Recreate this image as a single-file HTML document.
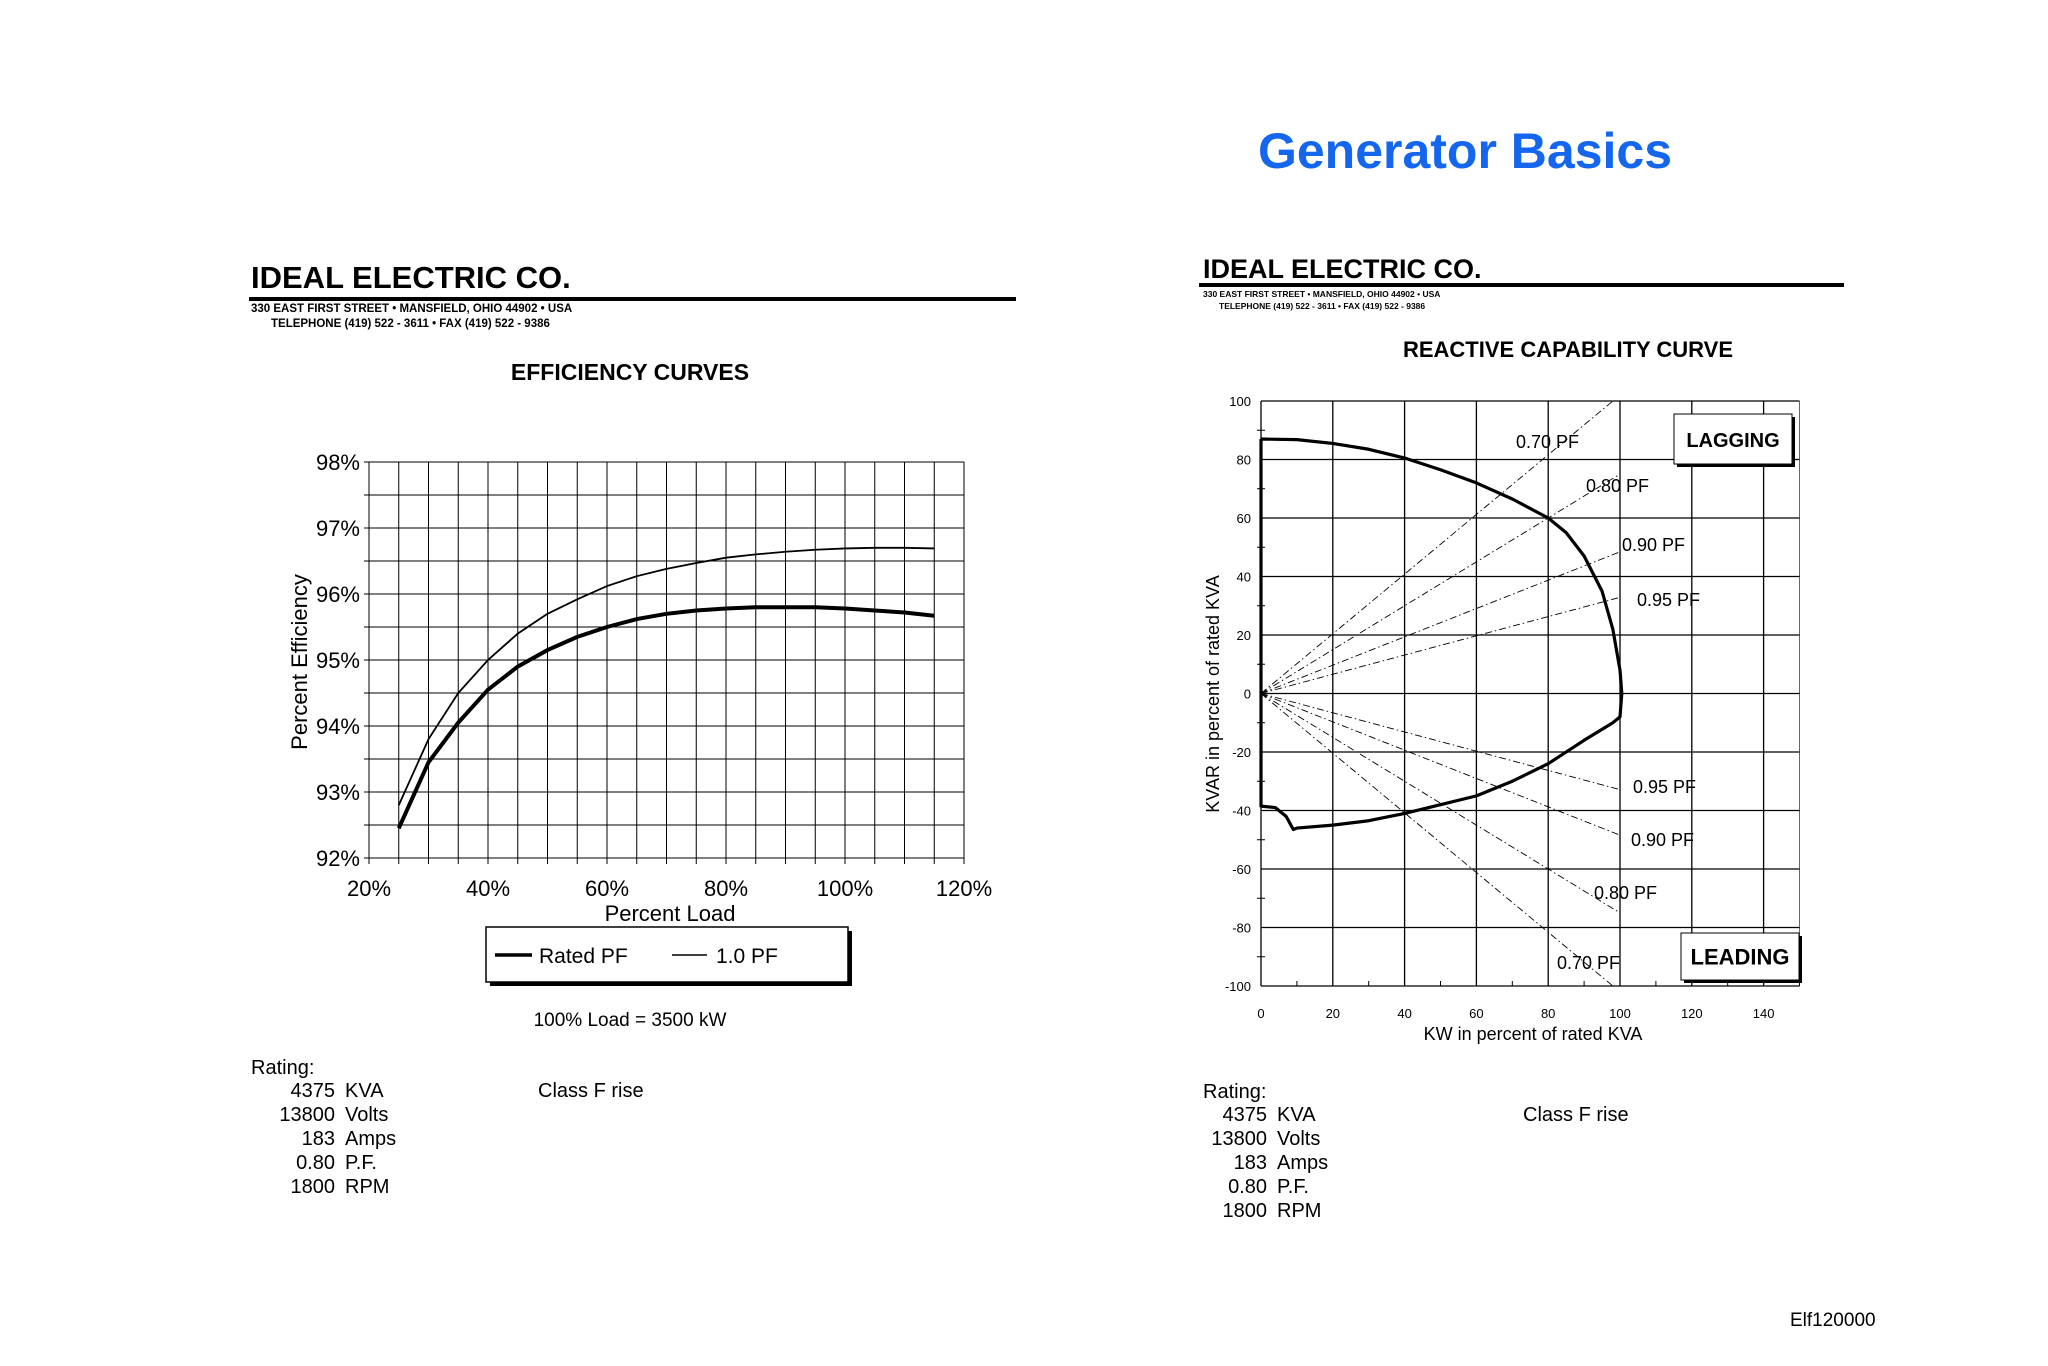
<!DOCTYPE html>
<html><head><meta charset="utf-8">
<style>
html,body{margin:0;padding:0;background:#fff;}
svg{display:block;font-family:"Liberation Sans",Arial,sans-serif;}
</style></head>
<body>
<svg id="page" width="2048" height="1366" viewBox="0 0 2048 1366" xmlns="http://www.w3.org/2000/svg">
<text x="1465" y="168" text-anchor="middle" font-size="50" font-weight="bold" fill="#1466ee">Generator Basics</text>

<g>
<text x="251" y="288" font-size="31" font-weight="bold">IDEAL ELECTRIC CO.</text>
<rect x="249" y="297" width="767" height="4" fill="#000"/>
<text x="251" y="312" font-size="11.5" font-weight="bold">330 EAST FIRST STREET  •  MANSFIELD,  OHIO  44902  •  USA</text>
<text x="271" y="327" font-size="11.5" font-weight="bold">TELEPHONE (419)  522 - 3611   •   FAX  (419)  522 - 9386</text>
<text x="630" y="380" text-anchor="middle" font-size="23" font-weight="bold">EFFICIENCY CURVES</text>
</g>
<g id="eff"></g>
<g>
<rect x="490" y="931" width="362" height="55" fill="#000"/>
<rect x="486" y="927" width="362" height="55" fill="#fff" stroke="#000" stroke-width="1.5"/>
<line x1="495" y1="955" x2="532" y2="955" stroke="#000" stroke-width="3.5"/>
<text x="539" y="963" font-size="21">Rated PF</text>
<line x1="672" y1="955" x2="707" y2="955" stroke="#000" stroke-width="1.5"/>
<text x="716" y="963" font-size="21">1.0 PF</text>
</g>
<text x="630" y="1026" text-anchor="middle" font-size="19">100% Load = 3500 kW</text>
<g font-size="20">
<text x="251" y="1074">Rating:</text>
<text x="335" y="1097" text-anchor="end">4375</text><text x="345" y="1097">KVA</text>
<text x="335" y="1121" text-anchor="end">13800</text><text x="345" y="1121">Volts</text>
<text x="335" y="1145" text-anchor="end">183</text><text x="345" y="1145">Amps</text>
<text x="335" y="1169" text-anchor="end">0.80</text><text x="345" y="1169">P.F.</text>
<text x="335" y="1193" text-anchor="end">1800</text><text x="345" y="1193">RPM</text>
<text x="538" y="1097">Class F rise</text>
</g>

<g>
<text x="1203" y="278" font-size="27" font-weight="bold">IDEAL  ELECTRIC  CO.</text>
<rect x="1199" y="283" width="645" height="4" fill="#000"/>
<text x="1203" y="297" font-size="8.5" font-weight="bold">330 EAST FIRST STREET  •  MANSFIELD,  OHIO  44902  •  USA</text>
<text x="1219" y="309" font-size="8.5" font-weight="bold">TELEPHONE (419)  522 - 3611   •   FAX  (419)  522 - 9386</text>
<text x="1568" y="357" text-anchor="middle" font-size="22" font-weight="bold">REACTIVE  CAPABILITY  CURVE</text>
</g>
<g id="rc"></g>
<g font-size="20">
<text x="1203" y="1098">Rating:</text>
<text x="1267" y="1121" text-anchor="end">4375</text><text x="1277" y="1121">KVA</text>
<text x="1267" y="1145" text-anchor="end">13800</text><text x="1277" y="1145">Volts</text>
<text x="1267" y="1169" text-anchor="end">183</text><text x="1277" y="1169">Amps</text>
<text x="1267" y="1193" text-anchor="end">0.80</text><text x="1277" y="1193">P.F.</text>
<text x="1267" y="1217" text-anchor="end">1800</text><text x="1277" y="1217">RPM</text>
<text x="1523" y="1121">Class F rise</text>
</g>
<text x="1790" y="1326" font-size="19">Elf120000</text>
</svg>
<script>
// Efficiency chart data
const loadPct = [25,30,35,40,45,50,55,60,65,70,75,80,85,90,95,100,105,110,115];
const effRatedPF = [92.45,93.45,94.05,94.55,94.9,95.15,95.35,95.5,95.62,95.7,95.75,95.78,95.8,95.8,95.8,95.78,95.75,95.72,95.67];
const effUnityPF = [92.8,93.8,94.5,95.0,95.4,95.7,95.92,96.12,96.27,96.38,96.47,96.55,96.6,96.64,96.67,96.69,96.7,96.7,96.69];
const effXTicks = [20,40,60,80,100,120];
const effYTicks = [92,93,94,95,96,97,98];

// Reactive capability data
const capKW = [0,10,20,30,40,50,60,70,80,85,90,95,98,100,100.5,100,98,90,80,70,60,50,40,30,20,10,9,7,4,0,0];
const capKVAR = [87,86.8,85.5,83.5,80.5,76.5,72,66.5,60,55,47,35,22,8,0,-8,-10,-16,-24,-30,-35,-38,-41,-43.5,-45,-46,-46.5,-42,-39,-38.5,87];
const pfValues = [0.70,0.80,0.90,0.95];
const pfLagEndKW = [98,100,100,100];
const pfLeadEndKW = [98,100,100,100];
const rcXTicks = [0,20,40,60,80,100,120,140];
const rcYTicks = [100,80,60,40,20,0,-20,-40,-60,-80,-100];

const NS='http://www.w3.org/2000/svg';
function mk(parent,tag,attrs,txt){const e=document.createElementNS(NS,tag);for(const k in attrs)e.setAttribute(k,attrs[k]);if(txt!==undefined)e.textContent=txt;parent.appendChild(e);return e;}

(function(){
const g=document.getElementById('eff');
const X0=369,X1=964,Y0=858,Y1=462;
const sx=v=>X0+(v-20)/(100)*(X1-X0);
const sy=v=>Y0-(v-92)/6*(Y0-Y1);
for(let v=20;v<=120;v+=5){const l=mk(g,'line',{x1:sx(v),y1:Y1,x2:sx(v),y2:Y0+6,stroke:'#000','stroke-width':1});

}
for(let v=92;v<=98.001;v+=0.5){const l=mk(g,'line',{x1:X0-5,y1:sy(v),x2:X1,y2:sy(v),stroke:'#000','stroke-width':1});

}
effYTicks.forEach(v=>{const t=mk(g,'text',{x:360,y:sy(v)+8,'text-anchor':'end','font-size':22},v+'%');

});
effXTicks.forEach(v=>{const t=mk(g,'text',{x:sx(v),y:896,'text-anchor':'middle','font-size':22},v+'%');

});
const xt=mk(g,'text',{x:670,y:921,'text-anchor':'middle','font-size':22},'Percent Load');


const yt=mk(g,'text',{x:0,y:0,'text-anchor':'middle','font-size':22,transform:'translate(307,662) rotate(-90)'},'Percent Efficiency');


const p1=mk(g,'polyline',{points:loadPct.map((x,i)=>sx(x)+','+sy(effUnityPF[i])).join(' '),fill:'none',stroke:'#000','stroke-width':1.8});


const p2=mk(g,'polyline',{points:loadPct.map((x,i)=>sx(x)+','+sy(effRatedPF[i])).join(' '),fill:'none',stroke:'#000','stroke-width':4});


})();

(function(){
const g=document.getElementById('rc');
const X0=1261,Y0=401,Y1=986;
const ux=(1620-1261)/100, uy=(Y1-Y0)/200;
const sx=v=>X0+v*ux, sy=v=>Y0+(100-v)*uy;
for(let v=0;v<=140;v+=20){const l=mk(g,'line',{x1:sx(v),y1:Y0,x2:sx(v),y2:Y1,stroke:'#000','stroke-width':1.3});

}
mk(g,'line',{x1:sx(150),y1:Y0,x2:sx(150),y2:Y1,stroke:'#666','stroke-width':1});
for(let v=-100;v<=100;v+=20){const l=mk(g,'line',{x1:X0,y1:sy(v),x2:sx(150),y2:sy(v),stroke:'#000','stroke-width':1.3});

}
for(let v=10;v<=150;v+=20){mk(g,'line',{x1:sx(v),y1:Y1-5,x2:sx(v),y2:Y1,stroke:'#000','stroke-width':1});}
for(let v=-90;v<=90;v+=20){mk(g,'line',{x1:X0-4,y1:sy(v),x2:X0+4,y2:sy(v),stroke:'#000','stroke-width':1});}
rcYTicks.forEach(v=>{const t=mk(g,'text',{x:1251,y:sy(v)+5,'text-anchor':'end','font-size':13},v);

});
rcXTicks.forEach(v=>{const t=mk(g,'text',{x:sx(v),y:1018,'text-anchor':'middle','font-size':13},v);

});
const xt=mk(g,'text',{x:1533,y:1040,'text-anchor':'middle','font-size':18},'KW in percent of rated KVA');


const yt=mk(g,'text',{x:0,y:0,'text-anchor':'middle','font-size':18,transform:'translate(1219,694) rotate(-90)'},'KVAR in percent of rated KVA');


const lagPos=[[1516,448],[1586,492],[1622,551],[1637,606]];
const leadPos=[[1557,969],[1594,899],[1631,846],[1633,793]];
pfValues.forEach((pf,i)=>{
 const r=Math.tan(Math.acos(pf));
 let kx=pfLagEndKW[i], ky=Math.min(100,kx*r); kx=ky/r;
 const l=mk(g,'line',{x1:sx(0),y1:sy(0),x2:sx(kx),y2:sy(ky),stroke:'#000','stroke-width':0.9,'stroke-dasharray':'7 3 1.5 3'});
 
 
 let lx=pfLeadEndKW[i], ly=Math.min(100,lx*r); lx=ly/r;
 const l2=mk(g,'line',{x1:sx(0),y1:sy(0),x2:sx(lx),y2:sy(-ly),stroke:'#000','stroke-width':0.9,'stroke-dasharray':'7 3 1.5 3'});
 
 
 const t=mk(g,'text',{x:lagPos[i][0],y:lagPos[i][1],'font-size':18},pf.toFixed(2)+'  PF');
 
 
});
[0.70,0.80,0.90,0.95].forEach((pf,i)=>{const p=leadPos[i];
 const t=mk(g,'text',{x:p[0],y:p[1],'font-size':18},pf.toFixed(2)+'  PF');
 
 });
const c=mk(g,'polyline',{points:capKW.map((x,i)=>sx(x)+','+sy(capKVAR[i])).join(' '),fill:'none',stroke:'#000','stroke-width':3.2,'stroke-linejoin':'round'});


[['LAGGING',1674,414,118,50,'lagging-box'],['LEADING',1681,933,118,47,'leading-box']].forEach(b=>{
 mk(g,'rect',{x:b[1]+3,y:b[2]+3,width:b[3],height:b[4],fill:'#000'});
 const r=mk(g,'rect',{x:b[1],y:b[2],width:b[3],height:b[4],fill:'#fff',stroke:'#000','stroke-width':1});
 
 
 const t=mk(g,'text',{x:b[1]+b[3]/2,y:b[2]+b[4]/2+8,'text-anchor':'middle','font-size':b[0]==='LEADING'?22:20,'font-weight':'bold'},b[0]);
 
 
});
})();
</script>
</body></html>
